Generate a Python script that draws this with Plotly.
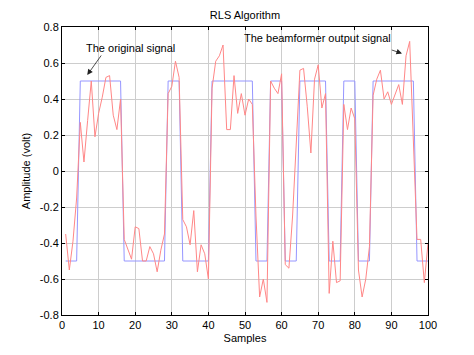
import plotly.graph_objects as go

samples = list(range(1, 101))

original_signal = (
    [-0.5] * 4 + [0.5] * 12 + [-0.5] * 12 + [0.5] * 4 + [-0.5] * 8 +
    [0.5] * 12 + [-0.5] * 4 + [0.5] * 4 + [-0.5] * 4 + [0.5] * 8 +
    [-0.5] * 4 + [0.5] * 4 + [-0.5] * 4 + [0.5] * 12 + [-0.5] * 4
)

beamformer_output = [
    -0.35, -0.55, -0.39, -0.15, 0.27, 0.05, 0.28, 0.50, 0.19, 0.32,
    0.41, 0.52, 0.53, 0.31, 0.23, 0.40, -0.38, -0.44, -0.49, -0.31,
    -0.32, -0.50, -0.50, -0.42, -0.46, -0.56, -0.44, -0.35, 0.43, 0.47,
    0.61, 0.52, -0.27, -0.31, -0.41, -0.22, -0.56, -0.41, -0.46, -0.60,
    0.46, 0.61, 0.64, 0.70, 0.23, 0.23, 0.53, 0.32, 0.43, 0.31,
    0.40, 0.37, -0.25, -0.70, -0.60, -0.73, 0.50, 0.46, 0.43, 0.54,
    -0.52, -0.54, -0.25, 0.15, 0.56, 0.57, 0.36, 0.10, 0.51, 0.59,
    0.35, 0.43, -0.68, -0.39, -0.62, -0.61, 0.37, 0.23, 0.35, 0.29,
    -0.55, -0.70, -0.60, -0.42, 0.42, 0.51, 0.56, 0.40, 0.44, 0.37,
    0.42, 0.48, 0.37, 0.64, 0.72, 0.20, -0.38, -0.38, -0.62, -0.40,
]

x_ticks = list(range(0, 101, 10))
y_ticks = [-0.8, -0.6, -0.4, -0.2, 0, 0.2, 0.4, 0.6, 0.8]
y_tick_labels = ["-0.8", "-0.6", "-0.4", "-0.2", "0", "0.2", "0.4", "0.6", "0.8"]

font = "Liberation Sans, Arial, Helvetica, sans-serif"

fig = go.Figure()
fig.add_trace(go.Scatter(x=samples, y=original_signal, mode="lines",
                         line=dict(color="rgb(150,150,255)", width=1),
                         name="original", showlegend=False))
fig.add_trace(go.Scatter(x=samples, y=beamformer_output, mode="lines",
                         line=dict(color="rgb(255,135,135)", width=1),
                         name="output", showlegend=False))

axis_common = dict(
    showline=True, linecolor="black", linewidth=1, mirror="ticks",
    ticks="inside", ticklen=3, tickcolor="black",
    showgrid=True, gridcolor="rgb(205,205,205)", gridwidth=1,
    zeroline=False, tickfont=dict(family=font, size=11, color="black"),
)

fig.update_layout(
    width=474, height=355,
    margin=dict(l=54, r=54, t=19, b=48),
    paper_bgcolor="white", plot_bgcolor="white",
    font=dict(family=font, size=11, color="black"),
    title=dict(text="RLS Algorithm", x=0.5, xref="paper", xanchor="center",
               y=0.980, yanchor="middle", font=dict(family=font, size=11, color="black")),
    xaxis=dict(range=[0, 100], tickvals=x_ticks,
               title=dict(text="Samples", standoff=4,
                          font=dict(family=font, size=11)), **axis_common),
    yaxis=dict(range=[-0.8, 0.8], tickvals=y_ticks, ticktext=y_tick_labels,
               title=dict(text="Amplitude (volt)", standoff=6,
                          font=dict(family=font, size=11)), **axis_common),
)

# text labels
fig.add_annotation(x=18.6, y=0.683, xref="x", yref="y", text="The original signal",
                   showarrow=False, font=dict(family=font, size=11, color="black"))
fig.add_annotation(x=69.9, y=0.739, xref="x", yref="y", text="The beamformer output signal",
                   showarrow=False, font=dict(family=font, size=11, color="black"))
# arrows
fig.add_annotation(x=6.9, y=0.533, ax=11.0, ay=0.65, xref="x", yref="y",
                   axref="x", ayref="y", text="", showarrow=True,
                   arrowhead=2, arrowsize=1.4, arrowwidth=0.8, arrowcolor="#222")
fig.add_annotation(x=92.9, y=0.653, ax=89.7, ay=0.675, xref="x", yref="y",
                   axref="x", ayref="y", text="", showarrow=True,
                   arrowhead=2, arrowsize=1.4, arrowwidth=0.8, arrowcolor="#222")

fig.write_html("out.html")
